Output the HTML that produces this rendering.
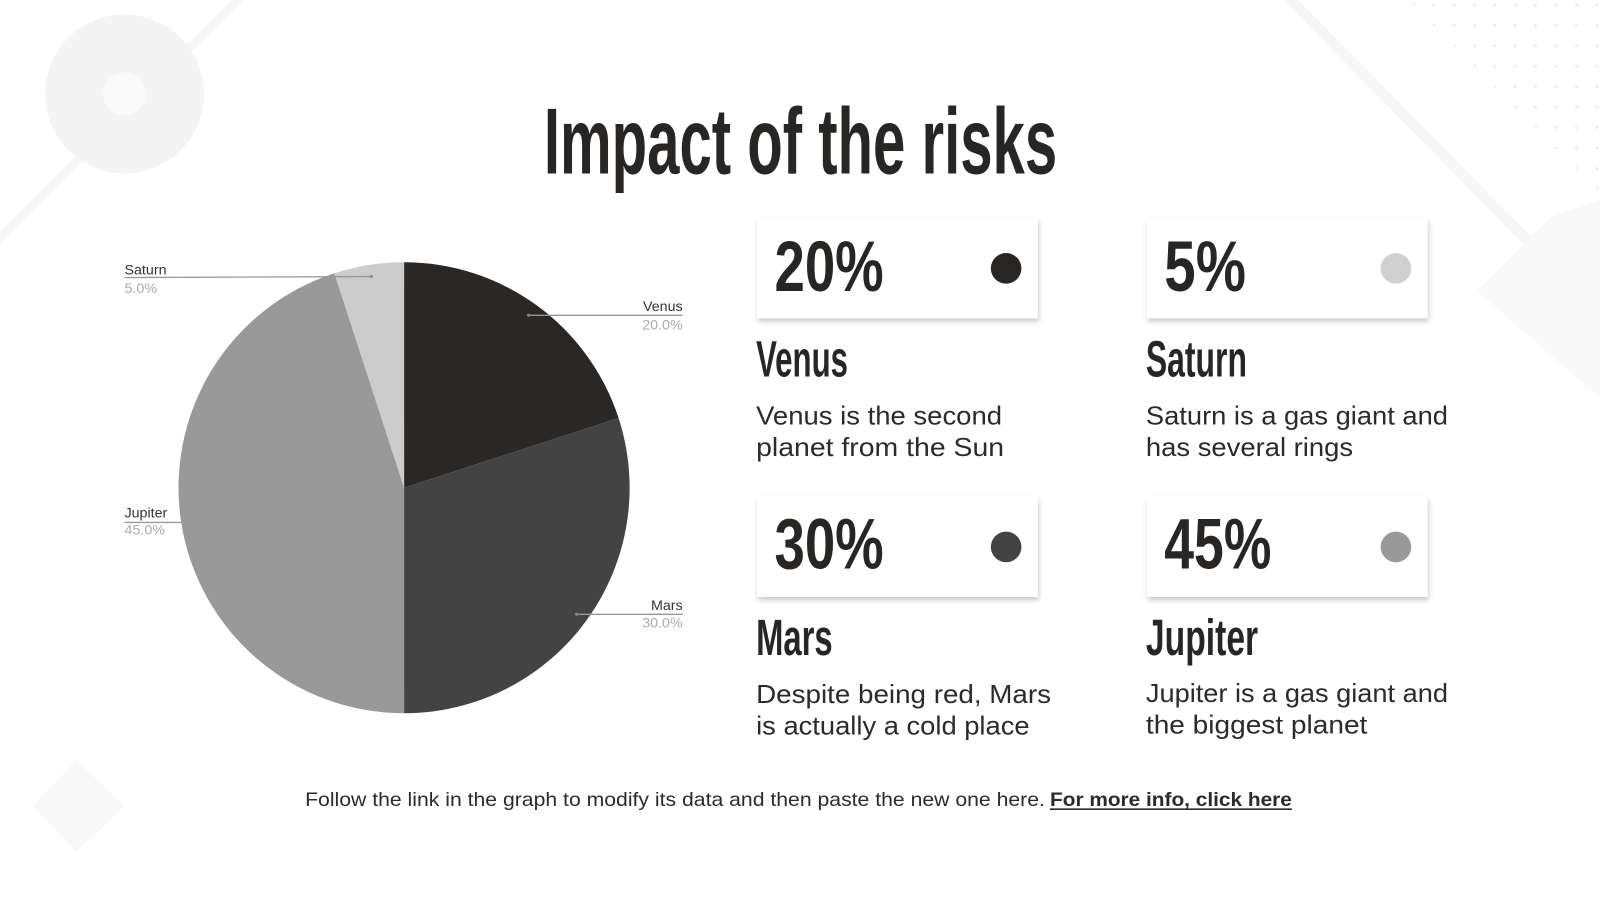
<!DOCTYPE html>
<html><head><meta charset="utf-8"><style>html,body{margin:0;padding:0;background:#fff;overflow:hidden}svg{display:block}</style></head>
<body>
<svg width="1600" height="900" viewBox="0 0 1568 882" xmlns="http://www.w3.org/2000/svg">
<defs>
<filter id="sh" x="-10%" y="-10%" width="130%" height="140%"><feDropShadow dx="1" dy="3" stdDeviation="2.5" flood-color="#000" flood-opacity="0.22"/></filter>
<pattern id="dots" width="20" height="20" patternUnits="userSpaceOnUse"><circle cx="5" cy="5" r="1.5" fill="#ececec"/></pattern>
</defs>
<rect width="1568" height="882" fill="#fff"/>
<path d="M0 240 L240 0 L227 0 L0 227 Z" fill="#f7f7f8"/>
<circle cx="122" cy="92" r="78" fill="#f4f4f5"/>
<circle cx="122" cy="92" r="21" fill="#fafafa"/>
<path d="M1258 0 L1272 0 L1568 300 L1568 316 Z" fill="#f6f6f7"/>
<path d="M1380 0 L1568 0 L1568 190 Z" fill="url(#dots)"/>
<path d="M1447 285 L1520 212 L1568 196 L1568 390 Z" fill="#f9f9fa"/>
<path d="M32 790 L75 745 L122 790 L75 835 Z" fill="#f8f8f9"/>
<text x="533" y="170" font-family="'Liberation Sans Narrow','Liberation Sans',sans-serif" font-weight="bold" font-size="92" fill="#272624" textLength="503" lengthAdjust="spacingAndGlyphs">Impact of the risks</text>
<path d="M396 478 L396 257 A221 221 0 0 1 606.2 409.7 Z" fill="#2a2826"/>
<path d="M396 478 L606.2 409.7 A221 221 0 0 1 396 699 Z" fill="#434343"/>
<path d="M396 478 L396 699 A221 221 0 0 1 327.7 267.8 Z" fill="#999999"/>
<path d="M396 478 L327.7 267.8 A221 221 0 0 1 396 257 Z" fill="#cccccc"/>
<g font-family="'Liberation Sans',sans-serif" font-size="14">
<line x1="122" y1="272" x2="364" y2="271" stroke="#999" stroke-width="1.3"/><circle cx="364" cy="271" r="1.5" fill="#888"/>
<text x="122" y="269" fill="#333">Saturn</text><text x="122" y="287" fill="#aaa">5.0%</text>
<line x1="518" y1="309" x2="669" y2="309" stroke="#999" stroke-width="1.3"/><circle cx="518" cy="309" r="1.5" fill="#888"/>
<text x="669" y="305" fill="#333" text-anchor="end">Venus</text><text x="669" y="323" fill="#aaa" text-anchor="end">20.0%</text>
<line x1="122" y1="512" x2="185" y2="512" stroke="#999" stroke-width="1.3"/>
<text x="122" y="507" fill="#333">Jupiter</text><text x="122" y="524" fill="#aaa">45.0%</text>
<line x1="565" y1="602" x2="669" y2="602" stroke="#999" stroke-width="1.3"/><circle cx="565" cy="602" r="1.5" fill="#888"/>
<text x="669" y="598" fill="#333" text-anchor="end">Mars</text><text x="669" y="615" fill="#aaa" text-anchor="end">30.0%</text>
</g>
<g filter="url(#sh)" fill="#fff">
<rect x="742" y="214" width="275" height="98"/>
<rect x="1124" y="214" width="275" height="98"/>
<rect x="742" y="487" width="275" height="98"/>
<rect x="1124" y="487" width="275" height="98"/>
</g>
<circle cx="986" cy="263" r="15" fill="#272624"/>
<circle cx="1368" cy="263" r="15" fill="#d0d0d0"/>
<circle cx="986" cy="536" r="15" fill="#434343"/>
<circle cx="1368" cy="536" r="15" fill="#999"/>
<g font-family="'Liberation Sans Narrow','Liberation Sans',sans-serif" font-weight="bold" fill="#272624">
<text x="759" y="285" font-size="70" textLength="107" lengthAdjust="spacingAndGlyphs">20%</text>
<text x="1141" y="285" font-size="70" textLength="80" lengthAdjust="spacingAndGlyphs">5%</text>
<text x="759" y="557" font-size="70" textLength="107" lengthAdjust="spacingAndGlyphs">30%</text>
<text x="1141" y="557" font-size="70" textLength="105" lengthAdjust="spacingAndGlyphs">45%</text>
<text x="741" y="369" font-size="50" textLength="90" lengthAdjust="spacingAndGlyphs">Venus</text>
<text x="1123" y="369" font-size="50" textLength="99" lengthAdjust="spacingAndGlyphs">Saturn</text>
<text x="741" y="642" font-size="50" textLength="75" lengthAdjust="spacingAndGlyphs">Mars</text>
<text x="1123" y="642" font-size="50" textLength="110" lengthAdjust="spacingAndGlyphs">Jupiter</text>
</g>
<g font-family="'Liberation Sans',sans-serif" font-size="25" fill="#2b2b2b">
<text x="741" y="416" textLength="241" lengthAdjust="spacingAndGlyphs">Venus is the second</text>
<text x="741" y="447" textLength="243" lengthAdjust="spacingAndGlyphs">planet from the Sun</text>
<text x="1123" y="416" textLength="296" lengthAdjust="spacingAndGlyphs">Saturn is a gas giant and</text>
<text x="1123" y="447" textLength="203" lengthAdjust="spacingAndGlyphs">has several rings</text>
<text x="741" y="689" textLength="289" lengthAdjust="spacingAndGlyphs">Despite being red, Mars</text>
<text x="741" y="720" textLength="268" lengthAdjust="spacingAndGlyphs">is actually a cold place</text>
<text x="1123" y="688" textLength="296" lengthAdjust="spacingAndGlyphs">Jupiter is a gas giant and</text>
<text x="1123" y="719" textLength="217" lengthAdjust="spacingAndGlyphs">the biggest planet</text>
</g>
<g font-family="'Liberation Sans',sans-serif" font-size="19" fill="#2b2b2b">
<text x="299" y="790" textLength="725" lengthAdjust="spacingAndGlyphs">Follow the link in the graph to modify its data and then paste the new one here.</text>
<text x="1029" y="790" font-weight="bold" textLength="237" lengthAdjust="spacingAndGlyphs">For more info, click here</text>
<line x1="1029" y1="793" x2="1266" y2="793" stroke="#2b2b2b" stroke-width="1.5"/>
</g>
</svg>
</body></html>
